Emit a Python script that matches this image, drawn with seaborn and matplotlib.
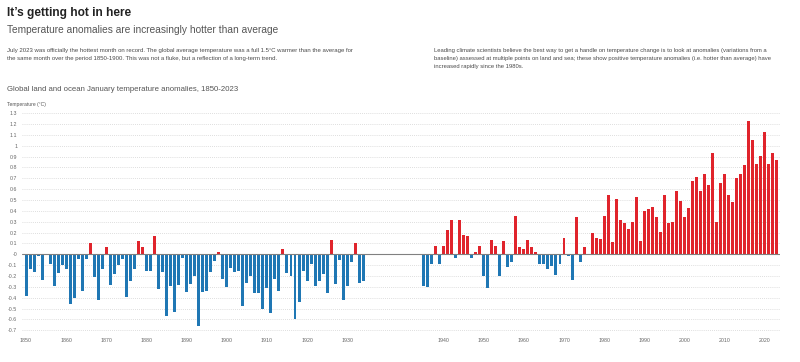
import numpy as np
import pandas as pd
import matplotlib
matplotlib.use("Agg")
import matplotlib.pyplot as plt
import seaborn as sns

# January anomalies (°C)
years_early = list(range(1850, 1935))
anom_early = [
    -0.38, -0.14, -0.16, -0.02, -0.24, -0.01, -0.09, -0.29, -0.17, -0.10,
    -0.14, -0.46, -0.40, -0.04, -0.34, -0.04, 0.10, -0.21, -0.42, -0.14,
    0.07, -0.28, -0.18, -0.10, -0.04, -0.39, -0.25, -0.14, 0.12, 0.07,
    -0.15, -0.15, 0.17, -0.32, -0.16, -0.57, -0.29, -0.53, -0.28, -0.03,
    -0.35, -0.27, -0.20, -0.66, -0.35, -0.34, -0.16, -0.06, 0.02, -0.23,
    -0.30, -0.13, -0.16, -0.15, -0.48, -0.26, -0.20, -0.36, -0.36, -0.50,
    -0.31, -0.54, -0.23, -0.34, 0.05, -0.17, -0.20, -0.60, -0.44, -0.15,
    -0.25, -0.09, -0.29, -0.25, -0.18, -0.36, 0.13, -0.27, -0.05, -0.42,
    -0.29, -0.07, 0.10, -0.26, -0.25,
]
years_late = list(range(1935, 2024))
anom_late = [
    -0.29, -0.30, -0.09, 0.08, -0.09,
    0.08, 0.22, 0.32, -0.03, 0.32, 0.18, 0.17, -0.03, 0.02, 0.08,
    -0.20, -0.31, 0.13, 0.08, -0.20, 0.12, -0.12, -0.07, 0.35, 0.07,
    0.05, 0.13, 0.07, 0.02, -0.09, -0.09, -0.14, -0.11, -0.19, -0.09,
    0.15, -0.02, -0.24, 0.34, -0.07, 0.07, -0.01, 0.20, 0.15, 0.14,
    0.35, 0.55, 0.11, 0.51, 0.32, 0.29, 0.23, 0.30, 0.53, 0.12,
    0.40, 0.42, 0.44, 0.34, 0.21, 0.55, 0.29, 0.30, 0.58, 0.49,
    0.34, 0.43, 0.68, 0.71, 0.58, 0.74, 0.64, 0.93, 0.30, 0.66,
    0.74, 0.55, 0.48, 0.70, 0.74, 0.82, 1.23, 1.05, 0.83, 0.91,
    1.13, 0.83, 0.93, 0.87,
]
tick_years = [1850, 1860, 1870, 1880, 1890, 1900, 1910, 1920, 1930,
              1940, 1950, 1960, 1970, 1980, 1990, 2000, 2010, 2020]
y_ticks = [round(v, 1) for v in np.arange(-0.7, 1.31, 0.1)]

# the reference axis has an empty stretch between 1934 and 1935
GAP_START, GAP = 1935, 14

BLUE, RED = "#1f77b4", "#e0242c"
TXT = "#4a4a4a"

sns.set_style("white")
plt.rcParams["font.family"] = ["Liberation Sans", "DejaVu Sans"]


def slot(y):
    return y + GAP if y >= GAP_START else y


df = pd.DataFrame({"year": years_early + years_late,
                   "anomaly": anom_early + anom_late})
df["pos"] = df["year"].map(slot)

fig = plt.figure(figsize=(8, 3.62), dpi=100)
ax = fig.add_axes([0.0275, 0.0727, 0.9475, 0.6295])

# warmer / cooler than average drawn as two layers
for mask, colour in [(df["anomaly"] < 0, BLUE), (df["anomaly"] >= 0, RED)]:
    sns.barplot(data=df[mask], x="pos", y="anomaly", color=colour,
                native_scale=True, width=0.74, errorbar=None,
                saturation=1, linewidth=0, ax=ax)

ax.set_xlim(1849, 1849 + 188.8)
ax.set_ylim(-0.75, 1.35)
ax.set_yticks(y_ticks)
ax.set_yticklabels([f"{v:g}" for v in y_ticks])
ax.set_xticks([slot(y) for y in tick_years])
ax.set_xticklabels([str(y) for y in tick_years])
ax.tick_params(axis="both", length=0, labelsize=3.8, labelcolor="#666666")
ax.tick_params(axis="y", pad=3.5)
ax.tick_params(axis="x", pad=1.5)
for v in y_ticks:
    if v != 0:
        ax.axhline(v, color="#d4d4d4", lw=0.6, ls=(0, (1, 1.5)), zorder=0)
ax.axhline(0, color="#808080", lw=0.8, zorder=3)
ax.set_xlabel("")
ax.set_ylabel("")
sns.despine(ax=ax, left=True, bottom=True)

fig.text(0.009, 0.963, "It’s getting hot in here", fontsize=8.6,
         fontweight="bold", color="#222222", va="center")
fig.text(0.009, 0.918, "Temperature anomalies are increasingly hotter than average",
         fontsize=7.3, color="#555555", va="center")

left_par = ("July 2023 was officially the hottest month on record. The global average temperature was a full 1.5°C warmer than the average for\n"
            "the same month over the period 1850-1900. This was not a fluke, but a reflection of a long-term trend.")
right_par = ("Leading climate scientists believe the best way to get a handle on temperature change is to look at anomalies (variations from a\n"
             "baseline) assessed at multiple points on land and sea; these show positive temperature anomalies (i.e. hotter than average) have\n"
             "increased rapidly since the 1980s.")
fig.text(0.009, 0.868, left_par, fontsize=4.3, color=TXT, va="top", linespacing=1.7)
fig.text(0.5425, 0.868, right_par, fontsize=4.2, color=TXT, va="top", linespacing=1.75)

fig.text(0.009, 0.752, "Global land and ocean January temperature anomalies, 1850-2023",
         fontsize=5.6, color="#555555", va="center")
fig.text(0.009, 0.712, "Temperature (°C)", fontsize=3.6, color="#555555", va="center")

fig.savefig("out.png", dpi=100)
plt.close(fig)
